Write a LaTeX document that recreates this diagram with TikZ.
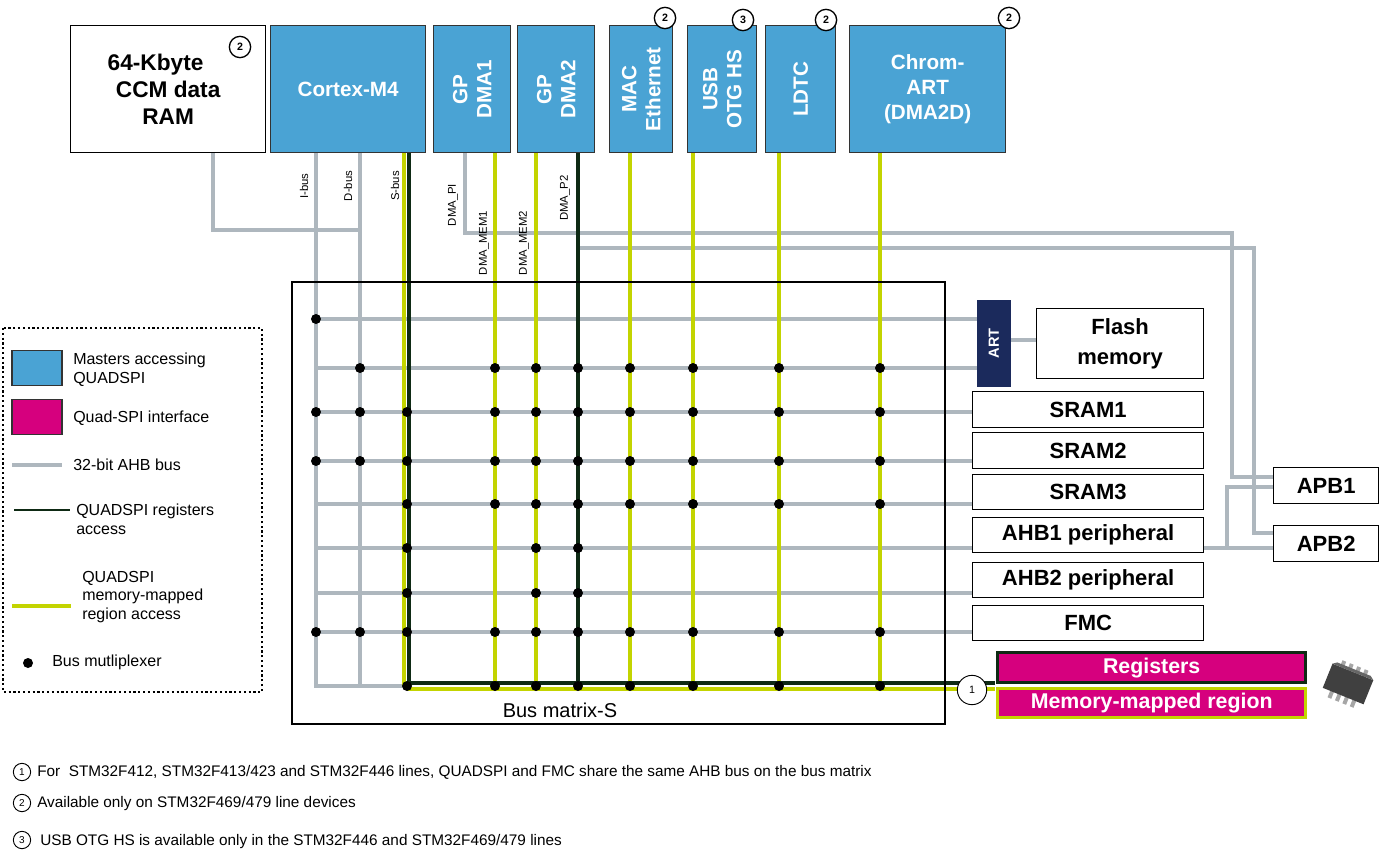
\documentclass[tikz,border=0pt]{standalone}
\usepackage{fontspec}
\setmainfont{Liberation Sans}
\begin{document}
\definecolor{mblue}{HTML}{4AA3D4}
\definecolor{mpink}{HTML}{D6007E}
\definecolor{myel}{HTML}{C3D400}
\definecolor{mdark}{HTML}{0E2A14}
\definecolor{mgray}{HTML}{AEB7BE}
\definecolor{mnavy}{HTML}{1B2A5C}
\begin{tikzpicture}[x=0.75pt,y=-0.75pt,
  master/.style={draw=black!80,line width=1pt,fill=mblue,text=white,font=\bfseries\fontsize{15.5}{18}\selectfont,align=center,inner sep=0pt,anchor=north west},
  mrot/.style={rotate=90,text=white,font=\bfseries\fontsize{15.5}{18}\selectfont,align=center},
  slave/.style={draw=black,line width=1pt,fill=white,font=\bfseries\fontsize{16.5}{19}\selectfont,align=center,inner sep=0pt,anchor=north west},
  cnum/.style={circle,draw=black,line width=1pt,fill=white,minimum size=16pt,inner sep=0pt,font=\bfseries\fontsize{8}{8}\selectfont},
  cfoot/.style={circle,draw=black,line width=0.7pt,fill=white,minimum size=13pt,inner sep=0pt,font=\fontsize{7.5}{7.5}\selectfont},
  gbus/.style={mgray,line width=3pt},
  ybus/.style={myel,line width=2.6pt},
  dbus/.style={mdark,line width=2.6pt},
  mux/.style={circle,fill=black,minimum size=7.5pt,inner sep=0pt},
  blab/.style={rotate=90,font=\fontsize{8.5}{9}\selectfont,inner sep=0pt},
  leg/.style={font=\fontsize{12}{14}\selectfont,align=left,anchor=west,inner sep=0pt},
  foot/.style={font=\fontsize{11.5}{13}\selectfont,anchor=west,inner sep=0pt}]
\useasboundingbox (0,0) rectangle (1394,856);
% ---------- bus lines (gray) ----------
\draw[gbus] (213,152) -- (213,230) -- (360,230);
\draw[gbus] (316,152) -- (316,686) -- (407,686);
\draw[gbus] (360,152) -- (360,686);
\draw[gbus] (465,152) -- (465,233) -- (1232,233) -- (1232,477) -- (1273,477);
\draw[gbus] (578,248) -- (1254,248) -- (1254,533) -- (1273,533);
\draw[gbus] (1204,548) -- (1273,548);
\draw[gbus] (1227,548) -- (1227,487) -- (1273,487);
\foreach \y in {319,368}{\draw[gbus] (316,\y) -- (977,\y);}
\foreach \y in {412,461,504,548,593,632}{\draw[gbus] (316,\y) -- (972,\y);}
\draw[gbus] (1010,340) -- (1036,340);
% ---------- coloured verticals ----------
\draw[ybus] (404,152) -- (404,686);
\draw[dbus] (409,152) -- (409,686);
\foreach \x in {495,536,630,693,779,880}{\draw[ybus] (\x,152) -- (\x,686);}
\draw[dbus] (578,152) -- (578,686);
\draw[dbus] (407,683) -- (995,683);
\draw[ybus] (407,689) -- (995,689);
% ---------- bus matrix ----------
\draw[line width=1.5pt] (292,282) rectangle (945,724);
\node[font=\fontsize{15}{17}\selectfont] (bmlab) at (560,710) {Bus matrix-S};
% ---------- multiplexers ----------
\foreach \x/\y in {316/319,
  360/368,495/368,536/368,578/368,630/368,693/368,779/368,880/368,
  316/412,360/412,407/412,495/412,536/412,578/412,630/412,693/412,779/412,880/412,
  316/461,360/461,407/461,495/461,536/461,578/461,630/461,693/461,779/461,880/461,
  407/504,495/504,536/504,578/504,630/504,693/504,779/504,880/504,
  407/548,536/548,578/548,
  407/593,536/593,578/593,
  316/632,360/632,407/632,495/632,536/632,578/632,630/632,693/632,779/632,880/632,
  407/686,495/686,536/686,578/686,630/686,693/686,779/686,880/686}
  {\node[mux] at (\x,\y) {};}
% ---------- masters ----------
\node[slave,minimum width=195*0.75pt,minimum height=127*0.75pt,font=\bfseries\fontsize{17}{20}\selectfont] (ccm) at (70,25) {64-Kbyte\phantom{00}\\CCM data\\RAM};
\node[cnum] (c1) at (240,47) {2};
\node[master,minimum width=155*0.75pt,minimum height=127*0.75pt] (cm4) at (270,25) {Cortex-M4};
\node[master,minimum width=77*0.75pt,minimum height=127*0.75pt] (dma1) at (433,25) {};
\node[mrot] (dma1t) at (dma1.center) {GP\\DMA1};
\node[master,minimum width=77*0.75pt,minimum height=127*0.75pt] (dma2) at (517,25) {};
\node[mrot] (dma2t) at (dma2.center) {GP\\DMA2};
\node[master,minimum width=63*0.75pt,minimum height=127*0.75pt] (mac) at (609,25) {};
\node[mrot] (mact) at (mac.center) {MAC\\Ethernet};
\node[master,minimum width=69*0.75pt,minimum height=127*0.75pt] (usb) at (687,25) {};
\node[mrot] (usbt) at (usb.center) {USB\\OTG HS};
\node[master,minimum width=70*0.75pt,minimum height=127*0.75pt] (ldtc) at (765,25) {};
\node[mrot] (ldtct) at (ldtc.center) {LDTC};
\node[master,minimum width=156*0.75pt,minimum height=127*0.75pt,font=\bfseries\fontsize{15.5}{19}\selectfont] (chrom) at (849,25) {Chrom-\\ART\\(DMA2D)};
\node[cnum] (c2) at (665,18) {2};
\node[cnum] (c3) at (743,20) {3};
\node[cnum] (c4) at (826,20) {2};
\node[cnum] (c5) at (1009,18) {2};
% bus labels
\node[blab] (ib) at (304,186) {I-bus};
\node[blab] (db) at (348,186) {D-bus};
\node[blab] (sb) at (395,186) {S-bus};
\node[blab] (dp1) at (453,205) {DMA\_PI};
\node[blab] (dm1) at (484,243) {DMA\_MEM1};
\node[blab] (dm2) at (524,243) {DMA\_MEM2};
\node[blab] (dp2) at (565,198) {DMA\_P2};
% ---------- slaves ----------
\node[draw=mnavy,fill=mnavy,minimum width=33*0.75pt,minimum height=86*0.75pt,inner sep=0pt,anchor=north west] (art) at (977,300) {};
\node[rotate=90,text=white,font=\bfseries\fontsize{11}{12}\selectfont] (artt) at (art.center) {ART};
\node[slave,minimum width=167*0.75pt,minimum height=70*0.75pt,font=\bfseries\fontsize{16.5}{22}\selectfont] (flash) at (1036,308) {Flash\\memory};
\node[slave,minimum width=231*0.75pt,minimum height=36*0.75pt] (sram1) at (972,391) {SRAM1};
\node[slave,minimum width=231*0.75pt,minimum height=36*0.75pt] (sram2) at (972,432) {SRAM2};
\node[slave,minimum width=231*0.75pt,minimum height=35*0.75pt] (sram3) at (972,474) {SRAM3};
\node[slave,minimum width=231*0.75pt,minimum height=35*0.75pt] (ahb1) at (972,517) {AHB1 peripheral};
\node[slave,minimum width=231*0.75pt,minimum height=35*0.75pt] (ahb2) at (972,562) {AHB2 peripheral};
\node[slave,minimum width=231*0.75pt,minimum height=35*0.75pt] (fmc) at (972,605) {FMC};
\node[slave,minimum width=105*0.75pt,minimum height=36*0.75pt] (apb1) at (1273,467) {APB1};
\node[slave,minimum width=105*0.75pt,minimum height=36*0.75pt] (apb2) at (1273,525) {APB2};
\node[draw=mdark,line width=2.5pt,fill=mpink,text=white,font=\bfseries\fontsize{16}{18}\selectfont,minimum width=308*0.75pt,minimum height=30*0.75pt,inner sep=0pt,anchor=north west] (reg) at (996,651) {Registers};
\node[draw=myel,line width=2.5pt,fill=mpink,text=white,font=\bfseries\fontsize{16}{18}\selectfont,minimum width=308*0.75pt,minimum height=29*0.75pt,inner sep=0pt,anchor=north west] (mem) at (996,687) {Memory-mapped region};
\node[cfoot,minimum size=22pt,font=\fontsize{8}{8}\selectfont] (cq) at (972,690) {1};
% chip icon
\begin{scope}[shift={(1348,684)},rotate=-22]
\foreach \i in {-12,-4,4,12}{
  \fill[gray!70] (\i-2,10) rectangle (\i+2,20);
  \fill[gray!70] (\i-2,-10) rectangle (\i+2,-20);}
\fill[black!75] (-22,-13) rectangle (22,13);
\fill[black!60] (-22,-13) -- (22,-13) -- (18,-16) -- (-18,-16) -- cycle;
\end{scope}
% ---------- legend ----------
\draw[line width=1.6pt,dotted] (3,328) rectangle (262,692);
\node[draw=black!80,line width=1pt,fill=mblue,minimum width=50*0.75pt,minimum height=35*0.75pt,inner sep=0pt] (lb) at (37,368) {};
\node[leg] (lbt) at (73,370) {Masters accessing\\QUADSPI};
\node[draw=black!80,line width=1pt,fill=mpink,minimum width=50*0.75pt,minimum height=35*0.75pt,inner sep=0pt] (lp) at (37,417) {};
\node[leg] (lpt) at (73,418) {Quad-SPI interface};
\coordinate (lg1) at (12,465); \coordinate (lg2) at (62,465);
\draw[gbus] (lg1) -- (lg2);
\node[leg] (lgt) at (73,465) {32-bit AHB bus};
\coordinate (ld1) at (14,510); \coordinate (ld2) at (70,510);
\draw[mdark,line width=1.5pt] (ld1) -- (ld2);
\node[leg] (ldt) at (76,519) {QUADSPI registers\\access};
\coordinate (ly1) at (12,606); \coordinate (ly2) at (71,606);
\draw[ybus] (ly1) -- (ly2);
\node[leg] (lyt) at (82,597) {QUADSPI\\memory-mapped\\region access};
\node[mux] (lm) at (28,663) {};
\node[leg] (lmt) at (52,662) {Bus mutliplexer};
% ---------- footnotes ----------
\node[cfoot] (f1) at (22,772) {1};
\node[foot] (f1t) at (37,772) {For\ \ STM32F412, STM32F413/423 and STM32F446 lines, QUADSPI and FMC share the same AHB bus on the bus matrix};
\node[cfoot] (f2) at (22,803) {2};
\node[foot] (f2t) at (37,804) {Available only on STM32F469/479 line devices};
\node[cfoot] (f3) at (22,840) {3};
\node[foot] (f3t) at (40,842) {USB OTG HS is available only in the STM32F446 and STM32F469/479 lines};
\end{tikzpicture}
\end{document}
